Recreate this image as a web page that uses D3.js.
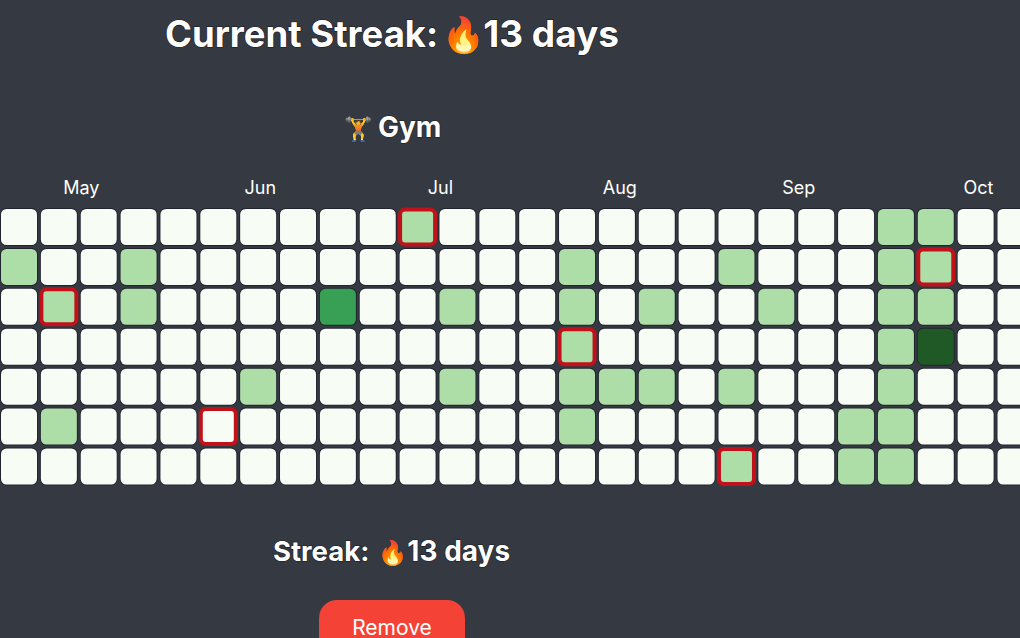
<!DOCTYPE html>
<html>
<head>
<meta charset="utf-8">
<script src="https://cdn.jsdelivr.net/npm/d3@7"></script>
<style>
  html, body { margin: 0; padding: 0; background: #353a42; overflow: hidden; }
  text { font-family: Inter, "Noto Sans", sans-serif; fill: #fff; }
  .halo { stroke: #15181f; stroke-width: 1.2px; paint-order: stroke; }
</style>
</head>
<body>
<svg id="chart" width="1020" height="638"></svg>
<script>
// habit levels per weekday row, one entry per week column
var row0 = [0,0,0,0,0,0,0,0,0,0,1,0,0,0,0,0,0,0,0,0,0,0,1,1,0,0];
var row1 = [1,0,0,1,0,0,0,0,0,0,0,0,0,0,1,0,0,0,1,0,0,0,1,1,0,0];
var row2 = [0,1,0,1,0,0,0,0,2,0,0,1,0,0,1,0,1,0,0,1,0,0,1,1,0,0];
var row3 = [0,0,0,0,0,0,0,0,0,0,0,0,0,0,1,0,0,0,0,0,0,0,1,3,0,0];
var row4 = [0,0,0,0,0,0,1,0,0,0,0,1,0,0,1,1,1,0,1,0,0,0,1,0,0,0];
var row5 = [0,1,0,0,0,0,0,0,0,0,0,0,0,0,1,0,0,0,0,0,0,1,1,0,0,0];
var row6 = [0,0,0,0,0,0,0,0,0,0,0,0,0,0,0,0,0,0,1,0,0,1,1,0,0,0];
var rows = [row0,row1,row2,row3,row4,row5,row6];

// week column of the red outlined cell in each row (row 4 has none)
var outlined = [10,23,1,14,-1,5,18];

var months = ["May","Jun","Jul","Aug","Sep","Oct"];
var monthWeeks = [1.55,6.04,10.56,15.06,19.55,24.06];
var levels = [0,1,2,3];
var levelColors = ["#f7fcf5","#aedea7","#37a055","#1f5a26"];

var svg = d3.select("#chart");

var x = d3.scaleLinear().domain([0,25]).range([19,1015.5]);
var y = d3.scaleLinear().domain([0,6]).range([227,466.5]);
var color = d3.scaleOrdinal().domain(levels).range(levelColors);
var cell = 36;

// month labels go on a plain axis with the line and ticks hidden
var axis = svg.append("g")
    .attr("transform","translate(0,194)")
    .call(d3.axisTop(x).tickValues(monthWeeks).tickSize(0).tickPadding(0)
        .tickFormat(function(d,i){ return months[i]; }));
axis.select(".domain").attr("visibility","hidden");
axis.selectAll("text").attr("font-size",18).attr("font-family","Inter, sans-serif")
    .attr("fill","#fff").attr("dy",0);

var cells = [];
rows.forEach(function(r,ri){
    r.forEach(function(v,ci){ cells.push({row:ri,col:ci,v:v}); });
});

// dark edge in the gaps, the screenshot has this ringing round every cell
svg.append("g").selectAll("rect").data(cells).enter().append("rect")
    .attr("x",function(d){ return x(d.col)-cell/2-1; })
    .attr("y",function(d){ return y(d.row)-cell/2-1; })
    .attr("width",cell+2).attr("height",cell+2)
    .attr("rx",6.5)
    .attr("fill","#20242f");

svg.append("g").selectAll("rect").data(cells).enter().append("rect")
    .attr("x",function(d){ return x(d.col)-cell/2; })
    .attr("y",function(d){ return y(d.row)-cell/2; })
    .attr("width",cell).attr("height",cell)
    .attr("rx",5.5)
    .attr("fill",function(d){ return color(d.v); });

// today markers for each row
svg.append("g").selectAll("rect").data(cells.filter(function(d){ return outlined[d.row]==d.col; }))
    .enter().append("rect")
    .attr("x",function(d){ return x(d.col)-cell/2+0.5; })
    .attr("y",function(d){ return y(d.row)-cell/2+0.5; })
    .attr("width",cell-1).attr("height",cell-1)
    .attr("rx",5)
    .attr("fill","none")
    .attr("stroke","#c1121c").attr("stroke-width",4);

// bold heading made of pieces, emoji pieces get their own size and nudge
function label(parts,px,py){
    var t = svg.append("text").attr("class","halo").attr("x",px).attr("y",py).attr("font-weight",700);
    parts.forEach(function(p){
        t.append("tspan").attr("font-size",p[1]).attr("dx",p[2]||0).text(p[0]);
    });
}
label([["Current Streak:",36.5],["\uD83D\uDD25",34.5,4],["13 days",37,-2]],165,47);
label([["\uD83C\uDFCB\uFE0F",23],["Gym",28,5]],344,137);
label([["Streak:",27.5],["\uD83D\uDD25",23.5,9],["13 days",28,0]],273,561);

// button runs off the bottom of the window
svg.append("rect").attr("x",319).attr("y",600).attr("width",146).attr("height",70)
    .attr("rx",18).attr("fill","#f44336");
svg.append("text").attr("x",392).attr("y",635).attr("text-anchor","middle")
    .attr("font-size",21).text("Remove");
</script>
</body>
</html>
